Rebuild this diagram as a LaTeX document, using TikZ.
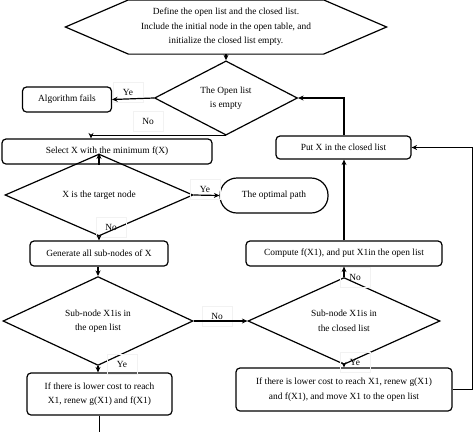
\documentclass[tikz,border=0pt]{standalone}
\usepackage{fontspec}
\setmainfont{Liberation Serif}
\usetikzlibrary{shapes.geometric,arrows.meta}

\tikzset{
  box/.style={draw, rectangle, rounded corners=4pt, align=center, inner sep=2pt},
  decision/.style={draw, diamond, align=center, inner sep=0pt},
  lab/.style={draw=black!5, line width=.4pt, minimum width=30pt, minimum height=20pt, inner sep=1pt}
}

\begin{document}
\begin{tikzpicture}
  [x=1pt, y=-1pt, line width=1.2pt, >={Stealth[length=5.5pt,width=5pt]},
   font=\fontsize{9.4}{14.5}\selectfont]
  \useasboundingbox (0,0) rectangle (474,432);

  \node (define) at (226,27) [minimum width=194pt, minimum height=53pt, align=center]
    {Define the open list and the closed list.\\Include the initial node in the open table, and\\initialize the closed list empty.};
  \draw (define.north west) -- (define.north east) -- ([xshift=63pt]define.east)
    -- (define.south east) -- (define.south west) -- ([xshift=-63pt]define.west) -- cycle;

  \node[decision, minimum width=143pt, minimum height=61pt] (empty) at (226,98) {The Open list\\is empty};
  \node[box, minimum width=89pt, minimum height=25pt] (fails) at (67,99.5) {Algorithm fails};
  \node[box, minimum width=210pt, minimum height=25pt] (select) at (107,151.5) {Select X with the minimum f(X)};
  \node[decision, minimum width=188pt, minimum height=41pt] (target) at (99,195) {X is the target node};
  \node[box, rounded corners=17pt, minimum width=108pt, minimum height=35pt] (optimal) at (274,195.5) {The optimal path};
  \node[box, minimum width=138pt, minimum height=25pt] (generate) at (99,253.5) {Generate all sub-nodes of X};
  \node[decision, minimum width=190pt, minimum height=78pt] (inopen) at (98,321) {Sub-node X1is in\\the open list};
  \node[decision, minimum width=192pt, minimum height=72pt] (inclosed) at (344,321) {Sub-node X1is in\\the closed list};
  \node[box, minimum width=196pt, minimum height=25pt] (compute) at (344,253.5) {Compute f(X1), and put X1in the open list};
  \node[box, minimum width=135pt, minimum height=23pt] (putx) at (343.5,147.5) {Put X in the closed list};
  \node[box, minimum width=145pt, minimum height=42pt] (renewl) at (99.5,394) {If there is lower cost to reach\\X1, renew g(X1) and f(X1)};
  \node[box, minimum width=216pt, minimum height=43pt] (renewr) at (344,389.5) {If there is lower cost to reach X1, renew g(X1)\\and f(X1), and move X1 to the open list};
  \coordinate (loop) at (99.5,432);

  % yes / no labels
  \node[lab] (l1) at (128,92) {Ye};
  \node[lab] (l2) at (148,121) {No};
  \node[lab] (l3) at (205,189) {Ye};
  \node[lab] (l4) at (111,227) {No};
  \node[lab] (l5) at (217,316) {No};
  \node[lab] (l6) at (122,364) {Ye};
  \node[lab] (l7) at (355,362) {Ye};
  \node[lab] (l8) at (355,277) {No};

  \draw[->] (define.south) -- (empty.north);
  \draw[->] (empty.west) -- (fails.east);
  \draw[->] (empty.south) -| ([xshift=-16pt]select.north);
  \draw[->] (target.north |- select.south) -- (target.north);
  \draw[->] (target.east) -- (optimal.west);
  \draw[->] (target.south) -- (generate.north);
  \draw[->] (inopen.north |- generate.south) -- (inopen.north);
  \draw[->] (inopen.east) -- (inclosed.west);
  \draw[->] (inopen.south) -- (inopen.south |- renewl.north);
  \draw[->] (inclosed.south) -- (renewr.north);
  \draw[->] (inclosed.north) -- (compute.south);
  \draw[->] (compute.north) -- (compute.north |- putx.south);
  \draw[->] (compute.north |- putx.north) |- (empty.east);
  \draw[->] (renewr.east) -- ++(20,0) |- (putx.east);
  \draw (renewl.south) -- (loop);
\end{tikzpicture}
\end{document}
